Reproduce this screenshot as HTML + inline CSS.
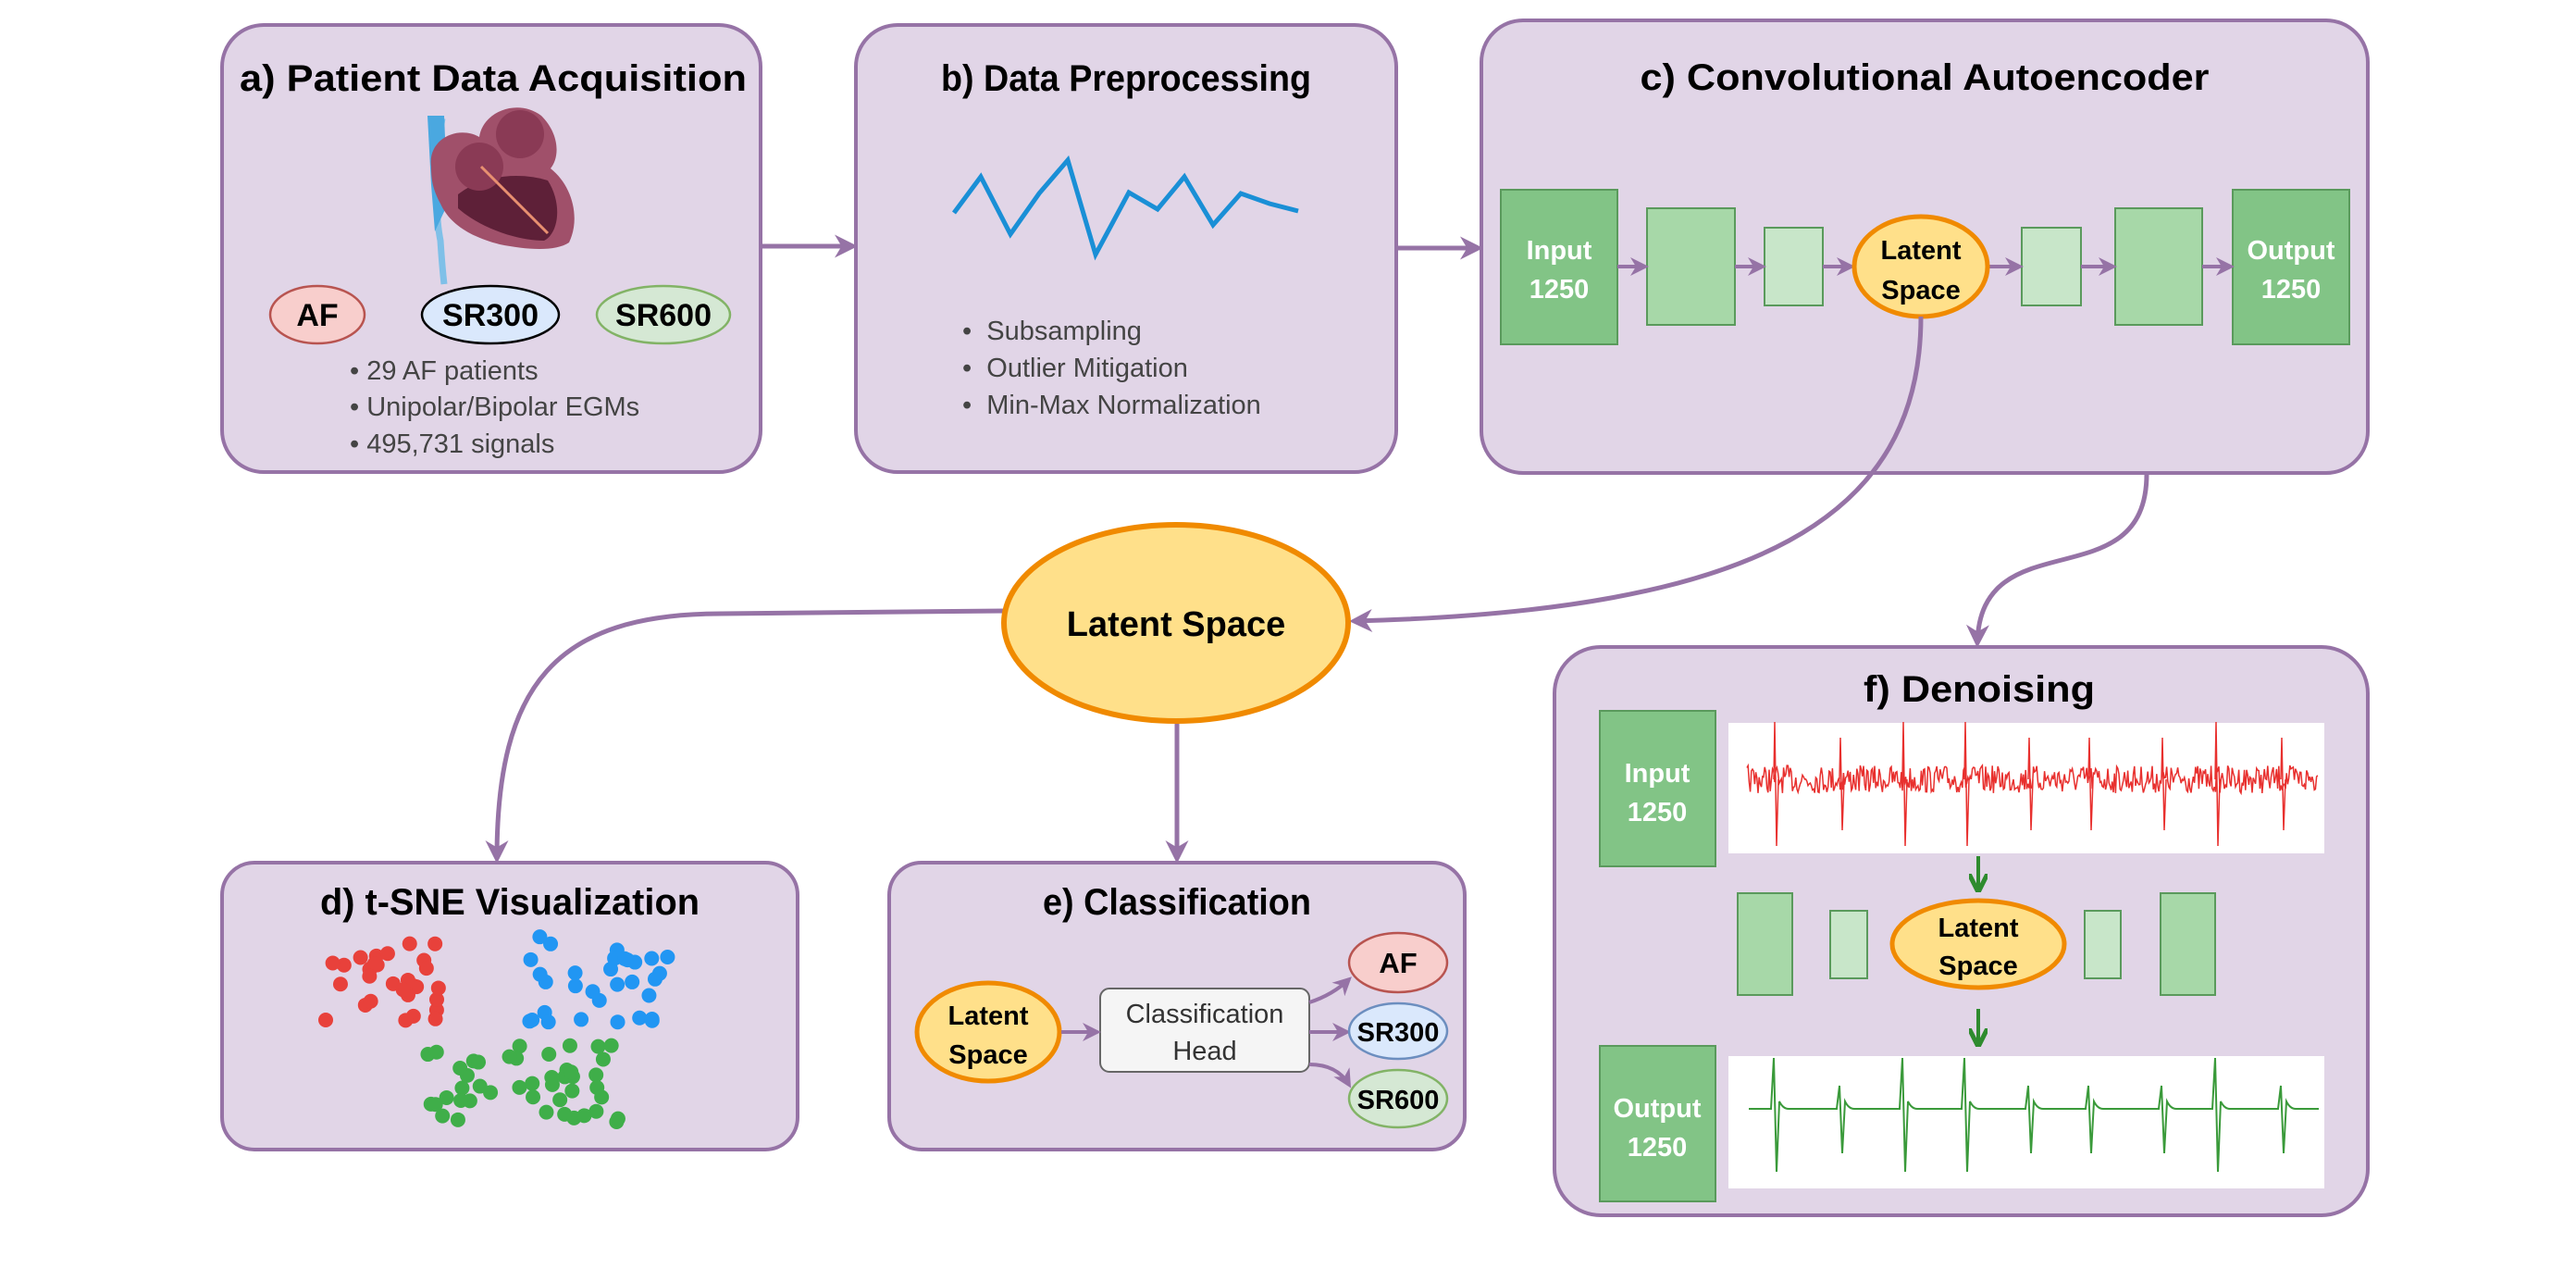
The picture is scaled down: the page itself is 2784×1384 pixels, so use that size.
<!DOCTYPE html>
<html><head><meta charset="utf-8"><style>
html,body{margin:0;padding:0;background:#fff;}
svg{display:block;}
text{font-family:"Liberation Sans",sans-serif;}
</style></head><body>
<svg id="s" width="2784" height="1384" viewBox="0 0 2784 1384" xmlns="http://www.w3.org/2000/svg">
<defs>
<marker id="ar" viewBox="0 0 10 10" refX="8" refY="5" markerWidth="5" markerHeight="5" orient="auto-start-reverse"><path d="M0,0 L10,5 L0,10 L3,5 Z" fill="#9673a6"/></marker>
<marker id="ag" viewBox="0 0 10 10" refX="8" refY="5" markerWidth="5" markerHeight="5" orient="auto"><path d="M0,0 L10,5 L0,10" fill="none" stroke="#2e8b2e" stroke-width="2.5"/></marker>
</defs>
<g fill="#e1d5e7" stroke="#9673a6" stroke-width="4">
<rect x="240" y="27" width="582" height="483" rx="45"/>
<rect x="925" y="27" width="584" height="483" rx="45"/>
<rect x="1601" y="22" width="958" height="489" rx="45"/>
<rect x="240" y="932" width="622" height="310" rx="35"/>
<rect x="961" y="932" width="622" height="310" rx="35"/>
<rect x="1680" y="699" width="879" height="614" rx="50"/>
</g>
<g font-weight="bold" font-size="40" text-anchor="middle" fill="#000">
<text x="533" y="98" textLength="548" lengthAdjust="spacingAndGlyphs">a) Patient Data Acquisition</text>
<text x="1217" y="98" textLength="400" lengthAdjust="spacingAndGlyphs">b) Data Preprocessing</text>
<text x="2080" y="97" textLength="615" lengthAdjust="spacingAndGlyphs">c) Convolutional Autoencoder</text>
<text x="551" y="988" textLength="410" lengthAdjust="spacingAndGlyphs">d) t-SNE Visualization</text>
<text x="1272" y="988" textLength="290" lengthAdjust="spacingAndGlyphs">e) Classification</text>
<text x="2139" y="758" textLength="250" lengthAdjust="spacingAndGlyphs">f) Denoising</text>
</g>
<!-- heart -->
<path d="M478,128 C470,170 470,230 476,260 Q478,290 480,307" stroke="#7fc0e8" stroke-width="7" fill="none"/>
<path d="M462,125 L480,125 L484,220 L470,250 L466,200 Z" fill="#4aa8e0"/>
<path d="M466,180 C462,150 495,135 518,148 C522,120 560,106 585,125 C605,145 605,170 595,182 C618,200 628,235 615,262 C600,272 570,270 540,264 C505,255 485,240 476,220 C468,205 466,195 466,180 Z" fill="#a0506a"/>
<path d="M495,210 C520,190 560,185 592,195 C608,220 604,252 588,260 C560,260 520,247 495,225 Z" fill="#5e2038"/>
<circle cx="518" cy="180" r="26" fill="#8a3a55"/><circle cx="562" cy="145" r="26" fill="#8a3a55"/>
<path d="M520,180 L592,252" stroke="#e89070" stroke-width="3"/>
<!-- AF SR ellipses -->
<g stroke-width="2.5" font-weight="bold" font-size="34" text-anchor="middle">
<ellipse cx="343" cy="340" rx="51" ry="31" fill="#f8cecc" stroke="#b85450"/>
<ellipse cx="530" cy="340" rx="74" ry="31" fill="#dae8fc" stroke="#000"/>
<ellipse cx="717" cy="340" rx="72" ry="31" fill="#d5e8d4" stroke="#82b366"/>
<text x="343" y="352">AF</text><text x="530" y="352">SR300</text><text x="717" y="352">SR600</text>
</g>
<g font-size="29" fill="#444">
<text x="378" y="410">• 29 AF patients</text>
<text x="378" y="449">• Unipolar/Bipolar EGMs</text>
<text x="378" y="489">• 495,731 signals</text>
<text x="1040" y="367">•&#160; Subsampling</text>
<text x="1040" y="407">•&#160; Outlier Mitigation</text>
<text x="1040" y="447">•&#160; Min-Max Normalization</text>
</g>
<polyline points="1031,230 1060,191 1092,253 1123,209 1154,173 1184,275 1220,208 1251,226 1280,191 1311,243 1341,209 1372,220 1403,228" fill="none" stroke="#1a8fd6" stroke-width="5"/>
<!-- arrows top -->
<g stroke="#9673a6" stroke-width="5" fill="none" marker-end="url(#ar)">
<line x1="822" y1="266" x2="922" y2="266"/>
<line x1="1509" y1="268" x2="1598" y2="268"/>
</g>
<!-- autoencoder -->
<g stroke="#5a9a5c" stroke-width="2">
<rect x="1622" y="205" width="126" height="167" fill="#82c486"/>
<rect x="1780" y="225" width="95" height="126" fill="#a7d8a8"/>
<rect x="1907" y="246" width="63" height="84" fill="#c8e6c9"/>
<rect x="2185" y="246" width="64" height="84" fill="#c8e6c9"/>
<rect x="2286" y="225" width="94" height="126" fill="#a7d8a8"/>
<rect x="2413" y="205" width="126" height="167" fill="#82c486"/>
</g>
<g stroke="#9673a6" stroke-width="4" fill="none" marker-end="url(#ar)">
<line x1="1748" y1="288" x2="1778" y2="288"/>
<line x1="1875" y1="288" x2="1905" y2="288"/>
<line x1="1970" y1="288" x2="2001" y2="288"/>
<line x1="2148" y1="288" x2="2183" y2="288"/>
<line x1="2249" y1="288" x2="2284" y2="288"/>
<line x1="2380" y1="288" x2="2411" y2="288"/>
</g>
<ellipse cx="2076" cy="288" rx="72" ry="54" fill="#ffe08a" stroke="#f08a00" stroke-width="5"/>
<g font-weight="bold" font-size="29" text-anchor="middle">
<text x="2076" y="280">Latent</text><text x="2076" y="323">Space</text>
<text x="1685" y="280" fill="#fff">Input</text><text x="1685" y="322" fill="#fff">1250</text>
<text x="2476" y="280" fill="#fff">Output</text><text x="2476" y="322" fill="#fff">1250</text>
</g>
<!-- connectors -->
<g stroke="#9673a6" stroke-width="5" fill="none" marker-end="url(#ar)">
<path d="M2076,342 C2076,560 1900,660 1463,671"/>
<path d="M2320,512 C2320,650 2140,560 2137,695"/>
<path d="M1086,660 L780,663 C600,663 537,740 537,928"/>
<line x1="1272" y1="779" x2="1272" y2="928"/>
</g>
<ellipse cx="1271" cy="673" rx="186" ry="106" fill="#ffe08a" stroke="#f08a00" stroke-width="6"/>
<text x="1271" y="687" font-weight="bold" font-size="38" text-anchor="middle">Latent Space</text>
<!-- tsne -->
<g id="dots"></g>
<!-- classification -->
<ellipse cx="1068" cy="1115" rx="77" ry="53" fill="#ffe08a" stroke="#f08a00" stroke-width="5"/>
<rect x="1189" y="1068" width="226" height="90" rx="10" fill="#f5f5f5" stroke="#666" stroke-width="2"/>
<g stroke="#9673a6" stroke-width="4" fill="none" marker-end="url(#ar)">
<line x1="1147" y1="1115" x2="1186" y2="1115"/>
<path d="M1415,1083 Q1440,1075 1458,1058"/>
<line x1="1415" y1="1115" x2="1456" y2="1115"/>
<path d="M1415,1150 Q1445,1150 1458,1172"/>
</g>
<g stroke-width="2.5">
<ellipse cx="1511" cy="1040" rx="53" ry="32" fill="#f8cecc" stroke="#b85450"/>
<ellipse cx="1511" cy="1114" rx="53" ry="30" fill="#dae8fc" stroke="#6c8ebf"/>
<ellipse cx="1511" cy="1187" rx="53" ry="31" fill="#d5e8d4" stroke="#82b366"/>
</g>
<g font-weight="bold" font-size="29" text-anchor="middle">
<text x="1068" y="1107">Latent</text><text x="1068" y="1149">Space</text>
<text x="1511" y="1051" font-size="31">AF</text><text x="1511" y="1125">SR300</text><text x="1511" y="1198">SR600</text>
</g>
<g font-size="29" text-anchor="middle" fill="#333"><text x="1302" y="1105">Classification</text><text x="1302" y="1145">Head</text></g>
<!-- denoising -->
<g stroke="#5a9a5c" stroke-width="2">
<rect x="1729" y="768" width="125" height="168" fill="#82c486"/>
<rect x="1729" y="1130" width="125" height="168" fill="#82c486"/>
<rect x="1878" y="965" width="59" height="110" fill="#a7d8a8"/>
<rect x="1978" y="984" width="40" height="73" fill="#c8e6c9"/>
<rect x="2253" y="984" width="39" height="73" fill="#c8e6c9"/>
<rect x="2335" y="965" width="59" height="110" fill="#a7d8a8"/>
</g>
<rect x="1868" y="781" width="644" height="141" fill="#fff"/>
<rect x="1868" y="1141" width="644" height="143" fill="#fff"/>
<g stroke="#2e8b2e" stroke-width="4" fill="none" marker-end="url(#ag)">
<line x1="2138" y1="925" x2="2138" y2="960"/>
<line x1="2138" y1="1090" x2="2138" y2="1127"/>
</g>
<ellipse cx="2138" cy="1020" rx="93" ry="47" fill="#ffe08a" stroke="#f08a00" stroke-width="5"/>
<g font-weight="bold" font-size="29" text-anchor="middle">
<text x="2138" y="1012">Latent</text><text x="2138" y="1053">Space</text>
<text x="1791" y="845" fill="#fff">Input</text><text x="1791" y="887" fill="#fff">1250</text>
<text x="1791" y="1207" fill="#fff">Output</text><text x="1791" y="1249" fill="#fff">1250</text>
</g>
<path id="noisy" fill="none" stroke="#e8302e" stroke-width="1.5"/>
<path id="clean" fill="none" stroke="#3a9a3a" stroke-width="2"/>
</svg>
<script>
var seed=7;function r(){seed=(seed*16807)%2147483647;return seed/2147483647;}
var ns="http://www.w3.org/2000/svg",g=document.getElementById("dots");
function cl(cx,cy,w,h,n,c){for(var i=0;i<n;i++){var e=document.createElementNS(ns,"circle");e.setAttribute("cx",cx+(r()-.5)*w);e.setAttribute("cy",cy+(r()-.5)*h);e.setAttribute("r",8);e.setAttribute("fill",c);g.appendChild(e);}}
cl(417,1062,130,95,30,"#e8413b");cl(647,1062,150,100,32,"#2196f3");cl(562,1170,215,85,45,"#3fae49");
var bx=[1917,1988,2056,2123,2192,2257,2336,2394,2465];
var big=[1,0,1,1,0,0,0,1,0];
var d="";
for(var x=1888;x<=2505;x+=1.2){var y=842+(r()-.5)*30;d+=(d?"L":"M")+x.toFixed(1)+","+y.toFixed(1);}
for(var i=0;i<bx.length;i++){var b=bx[i],a=big[i]?62:45;d+="M"+b+",842L"+(b+1)+","+(842-a)+"L"+(b+3)+","+(842+a+10)+"L"+(b+5)+",842";}
var c="M1890,1198";
for(var i=0;i<bx.length;i++){var b=bx[i];var up=big[i]?55:25,dn=big[i]?68:48;c+="L"+(b-3)+",1198L"+b+","+(1198-up)+"L"+(b+3)+","+(1198+dn)+"L"+(b+6)+",1190Q"+(b+10)+",1198 "+(b+16)+",1198";}
c+="L2506,1198";
document.getElementById("noisy").setAttribute("d",d);document.getElementById("clean").setAttribute("d",c);
</script>
</body></html>
